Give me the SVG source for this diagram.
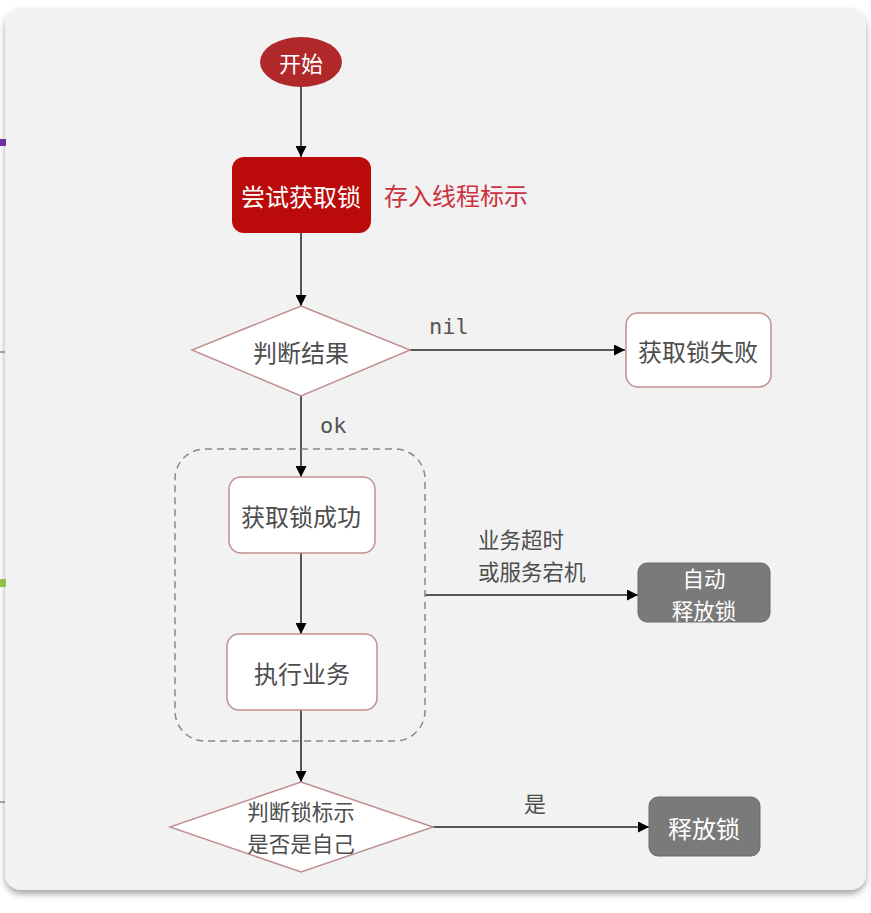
<svg xmlns="http://www.w3.org/2000/svg" width="871" height="913" viewBox="0 0 871 913">
<defs>
<marker id="ah" viewBox="0 0 10 10" refX="10" refY="5" markerWidth="11" markerHeight="11" markerUnits="userSpaceOnUse" orient="auto">
<path d="M0,0 L10,5 L0,10 z" fill="#000"/>
</marker>
<filter id="sh" x="-5%" y="-5%" width="110%" height="110%">
<feDropShadow dx="0" dy="4" stdDeviation="3" flood-color="#000" flood-opacity="0.35"/>
</filter>
</defs>
<style>
.t{font-family:"Noto Sans CJK SC","Liberation Sans",sans-serif;font-size:24px;fill:#4d4d4d;text-anchor:middle;dominant-baseline:central}
.two{font-size:21.5px}
.w{fill:#fff}
.m{font-family:"DejaVu Sans Mono","Liberation Mono",monospace;font-size:22px;fill:#555}
.box{fill:#fff;stroke:#c09090;stroke-width:1.5}
.gray{fill:#7a7a7a;stroke:#6a6a6a;stroke-width:1}
.edge{stroke:#222;stroke-width:1.5;fill:none;marker-end:url(#ah)}
</style>
<rect x="0" y="0" width="871" height="913" fill="#fff"/>
<rect x="5" y="8" width="861" height="882" rx="16" fill="#f2f2f2" filter="url(#sh)"/>
<g id="edge-artifacts">
<rect x="0" y="139" width="6" height="7" fill="#7030a0"/>
<rect x="0" y="579" width="6" height="8" fill="#8fc050"/>
<line x1="0" y1="352" x2="5" y2="352" stroke="#555" stroke-width="1"/>
<line x1="0" y1="802" x2="5" y2="802" stroke="#555" stroke-width="1"/>
</g>
<g id="connectors">
<line class="edge" x1="301" y1="87" x2="301" y2="157"/>
<line class="edge" x1="301" y1="233" x2="301" y2="306"/>
<line class="edge" x1="410" y1="350" x2="625" y2="350"/>
<line class="edge" x1="301" y1="396" x2="301" y2="477"/>
<line class="edge" x1="301" y1="553" x2="301" y2="634"/>
<line class="edge" x1="301" y1="710" x2="301" y2="782"/>
<line class="edge" x1="425" y1="595" x2="638" y2="595"/>
<line class="edge" x1="433" y1="827" x2="649" y2="827"/>
<text class="m" x="429" y="334">nil</text>
<text class="m" x="320" y="433">ok</text>
<text class="t two" style="text-anchor:start"><tspan x="478" y="538">业务超时</tspan><tspan x="478" y="570">或服务宕机</tspan></text>
<text class="t" x="535" y="802" style="font-size:22px">是</text>
</g>
<g id="group">
<rect x="175" y="449" width="250" height="292" rx="30" fill="none" stroke="#888" stroke-width="1.5" stroke-dasharray="7,5"/>
</g>
<g id="start">
<ellipse cx="301" cy="62" rx="41" ry="25" fill="#b0282a"/>
<text class="t w" x="301" y="62" style="font-size:22px">开始</text>
</g>
<g id="try-lock">
<rect x="232" y="157" width="139" height="76" rx="12" fill="#bb0a0a"/>
<text class="t w" x="301" y="195">尝试获取锁</text>
<text class="t" x="384" y="194" style="fill:#cc3340;text-anchor:start">存入线程标示</text>
</g>
<g id="judge">
<polygon points="301,306 410,350 301,396 192,350" class="box"/>
<text class="t" x="301" y="351">判断结果</text>
</g>
<g id="fail">
<rect x="626" y="313" width="145" height="74" rx="12" class="box"/>
<text class="t" x="698" y="350">获取锁失败</text>
</g>
<g id="success">
<rect x="229" y="477" width="146" height="76" rx="12" class="box"/>
<text class="t" x="301" y="515">获取锁成功</text>
</g>
<g id="business">
<rect x="227" y="634" width="150" height="76" rx="12" class="box"/>
<text class="t" x="302" y="672">执行业务</text>
</g>
<g id="auto-release">
<rect x="638" y="563" width="132" height="59" rx="9" class="gray"/>
<text class="t w two"><tspan x="704" y="577">自动</tspan><tspan x="704" y="609">释放锁</tspan></text>
</g>
<g id="judge-self">
<polygon points="301,782 433,827 301,872 170,827" class="box"/>
<text class="t two"><tspan x="301" y="810">判断锁标示</tspan><tspan x="301" y="842">是否是自己</tspan></text>
</g>
<g id="release">
<rect x="649" y="797" width="111" height="59" rx="9" class="gray"/>
<text class="t w" x="704" y="827">释放锁</text>
</g>
</svg>
